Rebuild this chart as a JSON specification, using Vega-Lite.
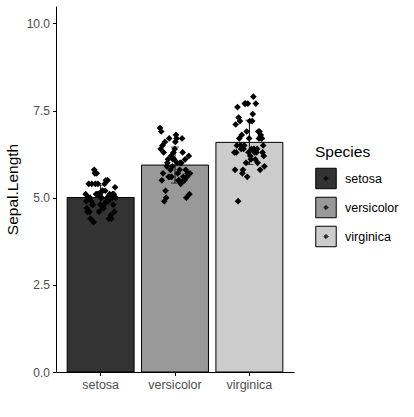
{
  "$schema": "https://vega.github.io/schema/vega-lite/v6.json",
  "width": 238,
  "height": 366,
  "autosize": "none",
  "padding": {"left": 56, "top": 6, "right": 120, "bottom": 45},
  "background": "white",
  "datasets": {
    "iris": [
      {"Species": "setosa", "obs": 1, "SepalLength": 5.1}, {"Species": "setosa", "obs": 2, "SepalLength": 4.9},
      {"Species": "setosa", "obs": 3, "SepalLength": 4.7}, {"Species": "setosa", "obs": 4, "SepalLength": 4.6},
      {"Species": "setosa", "obs": 5, "SepalLength": 5.0}, {"Species": "setosa", "obs": 6, "SepalLength": 5.4},
      {"Species": "setosa", "obs": 7, "SepalLength": 4.6}, {"Species": "setosa", "obs": 8, "SepalLength": 5.0},
      {"Species": "setosa", "obs": 9, "SepalLength": 4.4}, {"Species": "setosa", "obs": 10, "SepalLength": 4.9},
      {"Species": "setosa", "obs": 11, "SepalLength": 5.4}, {"Species": "setosa", "obs": 12, "SepalLength": 4.8},
      {"Species": "setosa", "obs": 13, "SepalLength": 4.8}, {"Species": "setosa", "obs": 14, "SepalLength": 4.3},
      {"Species": "setosa", "obs": 15, "SepalLength": 5.8}, {"Species": "setosa", "obs": 16, "SepalLength": 5.7},
      {"Species": "setosa", "obs": 17, "SepalLength": 5.4}, {"Species": "setosa", "obs": 18, "SepalLength": 5.1},
      {"Species": "setosa", "obs": 19, "SepalLength": 5.7}, {"Species": "setosa", "obs": 20, "SepalLength": 5.1},
      {"Species": "setosa", "obs": 21, "SepalLength": 5.4}, {"Species": "setosa", "obs": 22, "SepalLength": 5.1},
      {"Species": "setosa", "obs": 23, "SepalLength": 4.6}, {"Species": "setosa", "obs": 24, "SepalLength": 5.1},
      {"Species": "setosa", "obs": 25, "SepalLength": 4.8}, {"Species": "setosa", "obs": 26, "SepalLength": 5.0},
      {"Species": "setosa", "obs": 27, "SepalLength": 5.0}, {"Species": "setosa", "obs": 28, "SepalLength": 5.2},
      {"Species": "setosa", "obs": 29, "SepalLength": 5.2}, {"Species": "setosa", "obs": 30, "SepalLength": 4.7},
      {"Species": "setosa", "obs": 31, "SepalLength": 4.8}, {"Species": "setosa", "obs": 32, "SepalLength": 5.4},
      {"Species": "setosa", "obs": 33, "SepalLength": 5.2}, {"Species": "setosa", "obs": 34, "SepalLength": 5.5},
      {"Species": "setosa", "obs": 35, "SepalLength": 4.9}, {"Species": "setosa", "obs": 36, "SepalLength": 5.0},
      {"Species": "setosa", "obs": 37, "SepalLength": 5.5}, {"Species": "setosa", "obs": 38, "SepalLength": 4.9},
      {"Species": "setosa", "obs": 39, "SepalLength": 4.4}, {"Species": "setosa", "obs": 40, "SepalLength": 5.1},
      {"Species": "setosa", "obs": 41, "SepalLength": 5.0}, {"Species": "setosa", "obs": 42, "SepalLength": 4.5},
      {"Species": "setosa", "obs": 43, "SepalLength": 4.4}, {"Species": "setosa", "obs": 44, "SepalLength": 5.0},
      {"Species": "setosa", "obs": 45, "SepalLength": 5.1}, {"Species": "setosa", "obs": 46, "SepalLength": 4.8},
      {"Species": "setosa", "obs": 47, "SepalLength": 5.1}, {"Species": "setosa", "obs": 48, "SepalLength": 4.6},
      {"Species": "setosa", "obs": 49, "SepalLength": 5.3}, {"Species": "setosa", "obs": 50, "SepalLength": 5.0},
      {"Species": "versicolor", "obs": 1, "SepalLength": 7.0}, {"Species": "versicolor", "obs": 2, "SepalLength": 6.4},
      {"Species": "versicolor", "obs": 3, "SepalLength": 6.9}, {"Species": "versicolor", "obs": 4, "SepalLength": 5.5},
      {"Species": "versicolor", "obs": 5, "SepalLength": 6.5}, {"Species": "versicolor", "obs": 6, "SepalLength": 5.7},
      {"Species": "versicolor", "obs": 7, "SepalLength": 6.3}, {"Species": "versicolor", "obs": 8, "SepalLength": 4.9},
      {"Species": "versicolor", "obs": 9, "SepalLength": 6.6}, {"Species": "versicolor", "obs": 10, "SepalLength": 5.2},
      {"Species": "versicolor", "obs": 11, "SepalLength": 5.0}, {"Species": "versicolor", "obs": 12, "SepalLength": 5.9},
      {"Species": "versicolor", "obs": 13, "SepalLength": 6.0}, {"Species": "versicolor", "obs": 14, "SepalLength": 6.1},
      {"Species": "versicolor", "obs": 15, "SepalLength": 5.6}, {"Species": "versicolor", "obs": 16, "SepalLength": 6.7},
      {"Species": "versicolor", "obs": 17, "SepalLength": 5.6}, {"Species": "versicolor", "obs": 18, "SepalLength": 5.8},
      {"Species": "versicolor", "obs": 19, "SepalLength": 6.2}, {"Species": "versicolor", "obs": 20, "SepalLength": 5.6},
      {"Species": "versicolor", "obs": 21, "SepalLength": 5.9}, {"Species": "versicolor", "obs": 22, "SepalLength": 6.1},
      {"Species": "versicolor", "obs": 23, "SepalLength": 6.3}, {"Species": "versicolor", "obs": 24, "SepalLength": 6.1},
      {"Species": "versicolor", "obs": 25, "SepalLength": 6.4}, {"Species": "versicolor", "obs": 26, "SepalLength": 6.6},
      {"Species": "versicolor", "obs": 27, "SepalLength": 6.8}, {"Species": "versicolor", "obs": 28, "SepalLength": 6.7},
      {"Species": "versicolor", "obs": 29, "SepalLength": 6.0}, {"Species": "versicolor", "obs": 30, "SepalLength": 5.7},
      {"Species": "versicolor", "obs": 31, "SepalLength": 5.5}, {"Species": "versicolor", "obs": 32, "SepalLength": 5.5},
      {"Species": "versicolor", "obs": 33, "SepalLength": 5.8}, {"Species": "versicolor", "obs": 34, "SepalLength": 6.0},
      {"Species": "versicolor", "obs": 35, "SepalLength": 5.4}, {"Species": "versicolor", "obs": 36, "SepalLength": 6.0},
      {"Species": "versicolor", "obs": 37, "SepalLength": 6.7}, {"Species": "versicolor", "obs": 38, "SepalLength": 6.3},
      {"Species": "versicolor", "obs": 39, "SepalLength": 5.6}, {"Species": "versicolor", "obs": 40, "SepalLength": 5.5},
      {"Species": "versicolor", "obs": 41, "SepalLength": 5.5}, {"Species": "versicolor", "obs": 42, "SepalLength": 6.1},
      {"Species": "versicolor", "obs": 43, "SepalLength": 5.8}, {"Species": "versicolor", "obs": 44, "SepalLength": 5.0},
      {"Species": "versicolor", "obs": 45, "SepalLength": 5.6}, {"Species": "versicolor", "obs": 46, "SepalLength": 5.7},
      {"Species": "versicolor", "obs": 47, "SepalLength": 5.7}, {"Species": "versicolor", "obs": 48, "SepalLength": 6.2},
      {"Species": "versicolor", "obs": 49, "SepalLength": 5.1}, {"Species": "versicolor", "obs": 50, "SepalLength": 5.7},
      {"Species": "virginica", "obs": 1, "SepalLength": 6.3}, {"Species": "virginica", "obs": 2, "SepalLength": 5.8},
      {"Species": "virginica", "obs": 3, "SepalLength": 7.1}, {"Species": "virginica", "obs": 4, "SepalLength": 6.3},
      {"Species": "virginica", "obs": 5, "SepalLength": 6.5}, {"Species": "virginica", "obs": 6, "SepalLength": 7.6},
      {"Species": "virginica", "obs": 7, "SepalLength": 4.9}, {"Species": "virginica", "obs": 8, "SepalLength": 7.3},
      {"Species": "virginica", "obs": 9, "SepalLength": 6.7}, {"Species": "virginica", "obs": 10, "SepalLength": 7.2},
      {"Species": "virginica", "obs": 11, "SepalLength": 6.5}, {"Species": "virginica", "obs": 12, "SepalLength": 6.4},
      {"Species": "virginica", "obs": 13, "SepalLength": 6.8}, {"Species": "virginica", "obs": 14, "SepalLength": 5.7},
      {"Species": "virginica", "obs": 15, "SepalLength": 5.8}, {"Species": "virginica", "obs": 16, "SepalLength": 6.4},
      {"Species": "virginica", "obs": 17, "SepalLength": 6.5}, {"Species": "virginica", "obs": 18, "SepalLength": 7.7},
      {"Species": "virginica", "obs": 19, "SepalLength": 7.7}, {"Species": "virginica", "obs": 20, "SepalLength": 6.0},
      {"Species": "virginica", "obs": 21, "SepalLength": 6.9}, {"Species": "virginica", "obs": 22, "SepalLength": 5.6},
      {"Species": "virginica", "obs": 23, "SepalLength": 7.7}, {"Species": "virginica", "obs": 24, "SepalLength": 6.3},
      {"Species": "virginica", "obs": 25, "SepalLength": 6.7}, {"Species": "virginica", "obs": 26, "SepalLength": 7.2},
      {"Species": "virginica", "obs": 27, "SepalLength": 6.2}, {"Species": "virginica", "obs": 28, "SepalLength": 6.1},
      {"Species": "virginica", "obs": 29, "SepalLength": 6.4}, {"Species": "virginica", "obs": 30, "SepalLength": 7.2},
      {"Species": "virginica", "obs": 31, "SepalLength": 7.4}, {"Species": "virginica", "obs": 32, "SepalLength": 7.9},
      {"Species": "virginica", "obs": 33, "SepalLength": 6.4}, {"Species": "virginica", "obs": 34, "SepalLength": 6.3},
      {"Species": "virginica", "obs": 35, "SepalLength": 6.1}, {"Species": "virginica", "obs": 36, "SepalLength": 7.7},
      {"Species": "virginica", "obs": 37, "SepalLength": 6.3}, {"Species": "virginica", "obs": 38, "SepalLength": 6.4},
      {"Species": "virginica", "obs": 39, "SepalLength": 6.0}, {"Species": "virginica", "obs": 40, "SepalLength": 6.9},
      {"Species": "virginica", "obs": 41, "SepalLength": 6.7}, {"Species": "virginica", "obs": 42, "SepalLength": 6.9},
      {"Species": "virginica", "obs": 43, "SepalLength": 5.8}, {"Species": "virginica", "obs": 44, "SepalLength": 6.8},
      {"Species": "virginica", "obs": 45, "SepalLength": 6.7}, {"Species": "virginica", "obs": 46, "SepalLength": 6.7},
      {"Species": "virginica", "obs": 47, "SepalLength": 6.3}, {"Species": "virginica", "obs": 48, "SepalLength": 6.5},
      {"Species": "virginica", "obs": 49, "SepalLength": 6.2}, {"Species": "virginica", "obs": 50, "SepalLength": 5.9}
    ]
  },
  "data": {"name": "iris"},
  "resolve": {"scale": {"xOffset": "independent"}},
  "encoding": {
    "x": {
      "field": "Species",
      "type": "nominal",
      "title": null,
      "scale": {"type": "band", "paddingInner": 0.1, "paddingOuter": 0.15},
      "axis": {
        "labelAngle": 0,
        "labelColor": "#4D4D4D",
        "labelFontSize": 12.5,
        "labelPadding": 3,
        "tickSize": 3.5,
        "tickColor": "black",
        "domainColor": "black"
      }
    }
  },
  "layer": [
    {
      "mark": {"type": "bar", "stroke": "black", "strokeWidth": 1},
      "encoding": {
        "y": {
          "aggregate": "mean",
          "field": "SepalLength",
          "type": "quantitative",
          "title": "Sepal.Length",
          "scale": {"domain": [0, 10.5], "nice": false},
          "axis": {
            "values": [0, 2.5, 5, 7.5, 10],
            "format": ".1f",
            "grid": false,
            "labelColor": "#4D4D4D",
            "labelFontSize": 12,
            "labelPadding": 3,
            "tickSize": 3.5,
            "tickColor": "black",
            "domainColor": "black",
            "titleFontSize": 15.5,
            "titleFontWeight": "normal",
            "titleColor": "black",
            "titlePadding": 6
          }
        },
        "fill": {
          "field": "Species",
          "type": "nominal",
          "scale": {
            "domain": ["setosa", "versicolor", "virginica"],
            "range": ["#333333", "#999999", "#CCCCCC"]
          },
          "legend": {
            "orient": "none",
            "legendX": 259,
            "legendY": 139,
            "title": "Species",
            "titleFontSize": 15.5,
            "titleFontWeight": "normal",
            "titleColor": "black",
            "titlePadding": 7,
            "labelFontSize": 12.5,
            "labelColor": "black",
            "labelOffset": 8,
            "rowPadding": 3,
            "symbolType": "M-1,-1H1V1H-1Z M0,-0.2L0.2,0L0,0.2L-0.2,0Z M0,-0.12L0.12,0L0,0.12L-0.12,0Z M0,-0.04L0.04,0L0,0.04L-0.04,0Z",
            "symbolSize": 420,
            "symbolStrokeColor": "black",
            "symbolStrokeWidth": 1,
            "symbolOpacity": 1
          }
        }
      }
    },
    {
      "mark": {
        "type": "point",
        "shape": "diamond",
        "filled": true,
        "color": "black",
        "size": 45,
        "opacity": 1
      },
      "encoding": {
        "y": {"field": "SepalLength", "type": "quantitative", "title": "Sepal.Length"},
        "xOffset": {
          "field": "obs",
          "type": "quantitative",
          "scale": {"domain": [1, 50], "range": [18.5, 48.5]}
        }
      }
    },
    {
      "mark": {
        "type": "errorbar",
        "extent": "stdev",
        "color": "black",
        "thickness": 1,
        "ticks": {"size": 8, "color": "black"}
      },
      "encoding": {
        "y": {"field": "SepalLength", "type": "quantitative", "title": "Sepal.Length"}
      }
    }
  ],
  "config": {
    "font": "Liberation Sans",
    "view": {"stroke": null}
  }
}
